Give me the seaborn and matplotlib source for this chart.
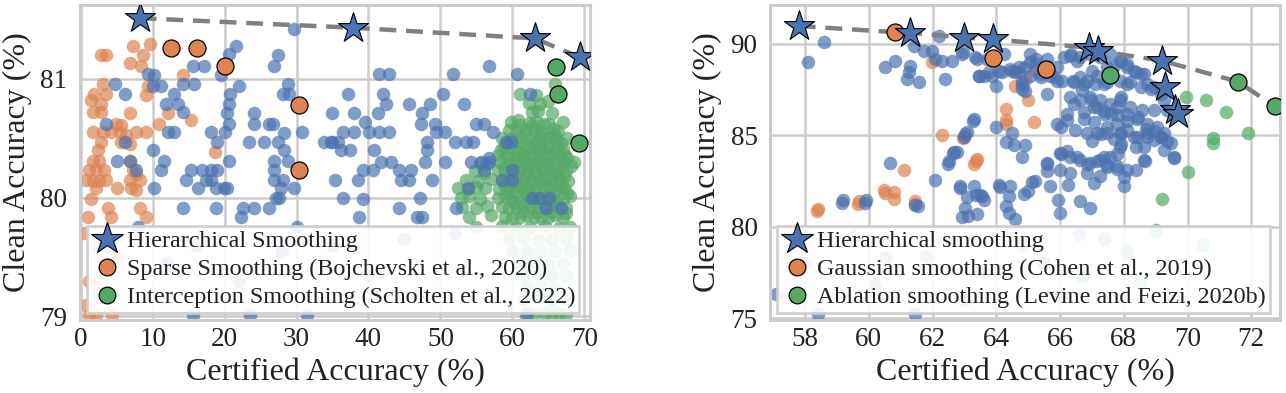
import numpy as np
import pandas as pd
import matplotlib.pyplot as plt
from matplotlib.lines import Line2D
import seaborn as sns

# -----------------------------
# DATA
# -----------------------------
# Left panel: sparse / interception smoothing
left_blue = [
    (29.7, 81.42), (21.6, 81.28), (20.6, 81.21), (27.4, 81.20), (26.9, 81.11),
    (15.6, 81.11), (17.2, 81.11), (9.3, 81.04), (10.2, 81.03), (10.0, 80.94),
    (11.2, 80.94), (19.5, 81.03), (4.7, 80.96), (6.1, 80.87), (14.2, 80.96),
    (15.8, 80.96), (20.7, 80.87), (22.0, 80.94), (28.8, 80.96), (28.1, 80.87),
    (29.0, 80.87), (13.0, 80.87), (11.9, 80.79), (13.5, 80.79), (14.2, 80.72),
    (20.6, 80.79), (20.4, 80.71), (24.1, 80.71), (3.5, 80.62), (12.1, 80.55),
    (13.0, 80.55), (20.6, 80.62), (20.0, 80.55), (24.1, 80.62), (26.2, 80.62),
    (26.7, 80.62), (28.3, 80.54), (18.1, 80.55), (19.0, 80.47), (6.1, 80.47),
    (10.0, 80.40), (11.6, 80.31), (11.2, 80.23), (23.4, 80.47), (25.5, 80.47),
    (27.4, 80.47), (28.3, 80.40), (5.1, 80.31), (6.8, 80.31), (20.6, 80.31),
    (26.9, 80.31), (28.8, 80.31), (33.8, 80.47), (34.8, 80.47), (35.8, 80.47),
    (30.8, 80.55), (7.7, 80.23), (15.3, 80.23), (16.9, 80.23), (18.1, 80.23),
    (19.0, 80.23), (14.6, 80.15), (17.4, 80.15), (18.1, 80.15), (10.2, 80.08),
    (16.3, 80.08), (18.8, 80.08), (19.9, 80.08), (20.4, 80.08), (26.9, 80.23),
    (26.9, 80.15), (28.1, 80.15), (27.9, 80.08), (29.7, 80.08), (27.1, 80.00),
    (27.6, 80.00), (14.2, 79.91), (18.8, 79.91), (22.5, 79.91), (24.1, 79.91),
    (26.2, 79.91), (22.3, 79.84), (15.6, 79.01), (23.5, 79.01), (31.5, 79.01),
    (56.8, 81.11), (41.5, 81.04), (42.9, 81.04), (51.7, 81.04), (60.7, 81.04),
    (37.1, 80.87), (42.0, 80.87), (42.5, 80.79), (45.7, 80.79), (48.5, 80.79),
    (50.3, 80.87), (53.3, 80.79), (62.4, 80.87), (35.0, 80.71), (38.0, 80.71),
    (41.3, 80.71), (47.5, 80.71), (39.5, 80.64), (47.3, 80.62), (49.2, 80.62),
    (55.0, 80.62), (56.1, 80.62), (36.4, 80.55), (38.0, 80.55), (40.1, 80.55),
    (41.5, 80.55), (42.9, 80.55), (49.4, 80.55), (50.6, 80.55), (57.3, 80.55),
    (48.2, 80.47), (52.0, 80.47), (53.6, 80.47), (54.5, 80.47), (59.1, 80.47),
    (59.8, 80.47), (35.0, 80.47), (36.2, 80.40), (37.4, 80.40), (40.8, 80.40),
    (48.2, 80.40), (41.8, 80.30), (43.1, 80.30), (47.8, 80.30), (50.6, 80.30),
    (54.3, 80.30), (55.6, 80.30), (56.8, 80.30), (39.2, 80.23), (40.6, 80.23),
    (44.3, 80.23), (45.9, 80.23), (56.1, 80.23), (35.3, 80.15), (38.5, 80.15),
    (44.5, 80.15), (45.7, 80.15), (48.9, 80.15), (60.0, 80.15), (53.8, 80.08),
    (47.1, 80.00), (39.2, 79.99), (36.4, 80.00), (44.3, 79.91), (46.8, 79.84),
    (47.5, 79.84), (38.7, 79.84), (52.2, 79.91), (62.8, 80.00), (63.7, 80.00),
    (65.1, 80.00), (64.7, 79.91), (66.8, 79.91), (58.6, 80.15), (60.0, 80.23),
    (56.8, 80.33), (61.9, 79.01), (35.0, 79.60), (45.0, 79.65), (28.0, 79.55),
    (16.0, 79.60), (52.0, 79.70), (8.0, 79.75), (12.0, 79.45), (40.0, 79.35),
    (22.0, 79.30), (3.5, 79.60), (47.0, 79.20), (30.0, 79.75),
]

left_orange = [
    (2.8, 81.20), (3.5, 81.20), (7.2, 81.28), (9.7, 81.29), (6.8, 81.13),
    (8.4, 81.11), (8.6, 81.20), (14.2, 81.03), (3.1, 80.96), (1.9, 80.87),
    (3.5, 80.87), (1.4, 80.82), (2.8, 80.79), (9.3, 80.94), (9.1, 80.86),
    (1.7, 80.72), (2.8, 80.72), (6.8, 80.71), (12.1, 80.71), (15.3, 80.65),
    (10.9, 80.62), (1.7, 80.55), (3.1, 80.55), (4.2, 80.55), (5.4, 80.55),
    (6.3, 80.53), (7.7, 80.55), (9.1, 80.55), (4.9, 80.62), (5.6, 80.61),
    (2.8, 80.47), (2.4, 80.40), (1.7, 80.31), (2.6, 80.31), (1.2, 80.23),
    (2.1, 80.23), (3.3, 80.23), (5.6, 80.47), (6.8, 80.45), (18.6, 80.38),
    (6.8, 80.31), (7.2, 80.23), (7.7, 80.20), (0.7, 80.15), (1.7, 80.14),
    (2.6, 80.14), (3.5, 80.15), (2.1, 80.08), (1.4, 79.99), (6.8, 80.15),
    (8.2, 80.15), (7.0, 80.08), (5.1, 80.08), (7.7, 80.06), (3.8, 79.91),
    (8.2, 79.91), (4.2, 79.84), (9.1, 79.84), (1.0, 79.84), (0.5, 79.70),
    (2.0, 79.60), (3.5, 79.45), (1.2, 79.30), (5.0, 79.50), (2.5, 79.20),
    (0.8, 79.10), (1.2, 79.01), (2.1, 79.01), (4.3, 79.01),
]

left_green = [
    (66.0, 80.96), (61.0, 80.87), (63.3, 80.86), (62.3, 80.80), (63.8, 80.79),
    (65.0, 80.81), (62.8, 80.72), (63.6, 80.73), (65.5, 80.71), (59.8, 80.64),
    (60.8, 80.65), (62.3, 80.63), (63.4, 80.64), (65.1, 80.62), (67.0, 80.64),
    (59.5, 80.57), (60.6, 80.56), (62.0, 80.58), (63.1, 80.57), (64.0, 80.55),
    (65.6, 80.58), (66.4, 80.56), (58.5, 80.50), (59.8, 80.49), (61.1, 80.51),
    (62.5, 80.50), (63.4, 80.48), (64.6, 80.50), (65.2, 80.51), (66.1, 80.49),
    (67.6, 80.50), (58.8, 80.43), (60.0, 80.42), (61.3, 80.44), (62.2, 80.43),
    (63.1, 80.41), (64.0, 80.44), (65.0, 80.42), (66.3, 80.43), (67.0, 80.41),
    (58.0, 80.36), (59.2, 80.37), (60.5, 80.35), (61.5, 80.36), (62.6, 80.37),
    (63.5, 80.35), (64.4, 80.36), (65.5, 80.37), (66.6, 80.35), (67.3, 80.36),
    (68.6, 80.30), (55.5, 80.29), (56.5, 80.28), (58.3, 80.30), (59.5, 80.29),
    (60.3, 80.28), (61.2, 80.30), (62.0, 80.29), (63.0, 80.28), (64.1, 80.30),
    (65.0, 80.29), (66.0, 80.28), (67.0, 80.30), (68.2, 80.27), (54.8, 80.22),
    (56.0, 80.21), (58.0, 80.23), (59.0, 80.22), (60.1, 80.21), (61.0, 80.23),
    (62.2, 80.22), (63.2, 80.21), (64.2, 80.23), (65.2, 80.22), (66.2, 80.21),
    (67.5, 80.22), (53.5, 80.15), (55.2, 80.14), (57.0, 80.16), (58.5, 80.15),
    (59.5, 80.14), (60.5, 80.15), (61.5, 80.16), (62.5, 80.15), (63.5, 80.14),
    (64.5, 80.15), (65.5, 80.16), (66.5, 80.15), (67.8, 80.14), (52.5, 80.08),
    (53.8, 80.07), (55.0, 80.09), (56.2, 80.08), (58.2, 80.07), (59.2, 80.08),
    (60.2, 80.09), (61.2, 80.08), (62.2, 80.07), (63.2, 80.08), (64.2, 80.09),
    (65.2, 80.08), (66.2, 80.07), (67.2, 80.08), (52.8, 80.00), (54.0, 80.01),
    (55.5, 79.99), (58.0, 80.00), (59.0, 80.01), (60.0, 79.99), (61.0, 80.00),
    (62.0, 80.01), (63.0, 79.99), (64.0, 80.00), (65.0, 80.01), (66.0, 79.99),
    (67.0, 80.00), (68.0, 80.01), (53.0, 79.92), (55.0, 79.91), (56.5, 79.93),
    (58.5, 79.92), (59.5, 79.91), (60.5, 79.92), (61.5, 79.93), (62.5, 79.92),
    (63.5, 79.91), (64.5, 79.92), (65.5, 79.93), (66.5, 79.92), (67.5, 79.91),
    (54.0, 79.84), (57.0, 79.85), (59.0, 79.84), (60.0, 79.83), (61.0, 79.84),
    (62.0, 79.85), (63.0, 79.84), (64.0, 79.83), (65.0, 79.84), (66.0, 79.85),
    (67.0, 79.84), (55.0, 79.75), (58.5, 79.76), (60.5, 79.74), (62.5, 79.75),
    (64.5, 79.76), (66.5, 79.74), (68.0, 79.75), (59.5, 79.65), (61.5, 79.66),
    (63.5, 79.64), (65.5, 79.65), (67.5, 79.66), (60.0, 79.55), (62.0, 79.56),
    (64.0, 79.54), (66.0, 79.55), (68.0, 79.56), (61.0, 79.45), (63.0, 79.46),
    (65.0, 79.44), (67.0, 79.45), (61.5, 79.35), (63.5, 79.36), (65.5, 79.34),
    (67.5, 79.35), (62.0, 79.25), (64.0, 79.26), (66.0, 79.24), (61.5, 79.15),
    (63.5, 79.16), (65.5, 79.14), (67.5, 79.15), (62.0, 79.03), (63.0, 79.02),
    (64.5, 79.03), (65.5, 79.02), (66.5, 79.03), (67.5, 79.02),
    # denser core between the rows above
    (60.9, 80.61), (62.7, 80.61), (64.4, 80.62), (61.7, 80.54), (63.9, 80.53),
    (65.9, 80.53), (59.3, 80.46), (60.8, 80.47), (62.8, 80.46), (64.9, 80.46),
    (66.8, 80.46), (58.4, 80.40), (60.9, 80.39), (63.8, 80.39), (65.9, 80.40),
    (59.7, 80.33), (61.7, 80.33), (63.6, 80.32), (65.6, 80.33), (67.6, 80.33),
    (58.8, 80.26), (60.7, 80.25), (62.6, 80.26), (64.6, 80.25), (66.6, 80.26),
    (59.9, 80.18), (61.9, 80.19), (63.9, 80.18), (65.9, 80.19), (67.2, 80.18),
    (58.9, 80.11), (60.8, 80.11), (62.8, 80.12), (64.8, 80.11), (66.8, 80.11),
    (59.6, 80.04), (61.6, 80.04), (63.6, 80.03), (65.6, 80.04), (67.6, 80.04),
    (60.2, 79.96), (62.2, 79.96), (64.2, 79.95), (66.2, 79.96), (61.4, 79.88),
    (63.4, 79.88), (65.4, 79.88), (67.4, 79.87),
]

left_stars = [(8.2, 81.51), (37.8, 81.43), (63.1, 81.34), (69.4, 81.18)]
left_orange_hl = [(12.6, 81.26), (16.1, 81.26), (20.0, 81.11), (30.3, 80.78), (30.3, 80.23)]
left_green_hl = [(66.1, 81.10), (66.4, 80.87), (69.3, 80.46)]

# Right panel: gaussian / ablation smoothing
right_blue = [
    (58.58, 90.10), (58.08, 88.97), (60.52, 88.70), (60.81, 89.06), (61.30, 88.79),
    (61.25, 88.43), (61.20, 88.07), (61.58, 87.92), (62.19, 90.41), (61.41, 89.87),
    (61.72, 89.60), (61.98, 89.60), (62.09, 89.15), (62.30, 89.06), (62.61, 89.06),
    (62.93, 89.42), (63.40, 89.15), (63.71, 89.15), (64.24, 89.42), (62.40, 88.07),
    (63.45, 88.25), (63.77, 88.43), (64.08, 88.52), (64.50, 88.52), (64.70, 88.43),
    (64.00, 87.70), (64.80, 87.50), (64.80, 87.90), (63.30, 85.90), (63.08, 85.18),
    (62.98, 84.90), (64.00, 85.45), (64.30, 84.60), (64.50, 85.10), (64.55, 84.45),
    (62.66, 84.10), (62.77, 84.10), (62.50, 83.56), (60.67, 83.50), (62.09, 82.56),
    (62.87, 82.20), (63.35, 81.75), (63.56, 81.66), (63.61, 81.48), (63.03, 81.03),
    (64.08, 82.29), (64.40, 81.66), (64.29, 81.12), (59.20, 81.48), (59.90, 81.48),
    (61.46, 81.20), (62.93, 80.50), (63.10, 80.60), (63.40, 80.67), (64.40, 80.76),
    (64.60, 80.40), (57.10, 76.30), (58.40, 75.25), (61.46, 75.25), (62.47, 83.44),
    (62.65, 84.04), (63.03, 85.08), (63.28, 85.79), (62.87, 82.13), (59.16, 81.30),
    (59.89, 81.30), (61.55, 81.10), (59.50, 79.50), (60.50, 78.30), (62.50, 79.20),
    (63.50, 77.50), (64.80, 79.00), (65.50, 78.00), (66.60, 79.60), (58.00, 78.00),
    (60.20, 76.80), (63.00, 76.00),
    (65.05, 89.42), (65.26, 89.15), (65.58, 89.15), (64.90, 88.70), (65.05, 88.25),
    (65.37, 88.34), (65.68, 88.25), (65.89, 88.70), (66.32, 89.33), (66.63, 89.24),
    (66.95, 89.42), (67.26, 89.24), (67.58, 89.42), (67.89, 89.06), (68.11, 88.70),
    (68.37, 88.43), (68.63, 88.34), (66.05, 87.98), (66.42, 87.98), (66.74, 87.80),
    (67.11, 87.80), (67.47, 87.89), (67.89, 87.98), (68.21, 87.89), (68.53, 87.62),
    (68.84, 87.53), (69.16, 87.44), (66.32, 87.08), (66.68, 87.44), (66.95, 87.08),
    (67.26, 86.90), (67.58, 86.71), (67.89, 86.90), (68.21, 86.53), (68.58, 86.35),
    (68.95, 86.35), (69.37, 86.35), (66.74, 86.26), (67.05, 86.53), (67.37, 86.17),
    (67.79, 86.08), (68.11, 86.17), (68.42, 85.90), (68.74, 85.63), (69.05, 85.45),
    (69.26, 85.09), (69.47, 84.55), (65.89, 85.63), (66.21, 85.81), (66.47, 85.27),
    (66.84, 85.09), (67.16, 85.09), (67.47, 85.09), (67.89, 85.09), (68.11, 85.27),
    (68.42, 84.91), (68.74, 85.09), (68.95, 84.73), (69.16, 84.91), (64.89, 84.46),
    (64.79, 83.83), (65.58, 83.47), (66.00, 84.01), (66.32, 83.83), (66.63, 83.65),
    (66.95, 83.47), (67.26, 83.65), (67.58, 83.83), (67.79, 83.29), (68.11, 83.10),
    (68.37, 83.10), (68.63, 83.65), (66.00, 83.10), (66.32, 82.92), (66.84, 82.92),
    (67.26, 82.74), (67.47, 83.38), (67.89, 84.37), (68.37, 84.37), (65.21, 82.47),
    (65.68, 82.20), (66.26, 82.29), (67.05, 82.38), (68.00, 82.20), (65.00, 81.93),
    (65.95, 81.48), (66.63, 81.39), (66.95, 81.03), (66.00, 80.76), (69.26, 84.19),
    (69.58, 83.74), (68.68, 83.56),
    (62.97, 89.53), (63.34, 89.25), (63.45, 88.25), (63.60, 88.25), (63.87, 88.25),
    (64.18, 88.43), (64.44, 88.62), (64.60, 88.43), (64.70, 88.71), (64.81, 87.71),
    (64.91, 87.43), (65.07, 88.98), (65.23, 88.89), (65.39, 88.16), (65.60, 87.25),
    (65.81, 88.16), (65.91, 87.98), (66.12, 89.25), (66.33, 89.44), (66.54, 89.07),
    (66.43, 87.89), (66.64, 88.16), (66.85, 87.98), (67.01, 88.52), (67.17, 88.25),
    (67.38, 87.80), (67.48, 88.71), (67.69, 88.80), (67.90, 89.07), (68.11, 88.89),
    (68.32, 88.52), (68.53, 88.34), (68.74, 87.80), (68.95, 87.61), (69.16, 87.25),
    (69.26, 86.89), (68.11, 87.80), (67.90, 87.07), (67.80, 86.52), (67.59, 86.16),
    (67.38, 86.34), (67.17, 86.52), (66.96, 86.89), (66.64, 86.89), (66.43, 86.70),
    (66.22, 86.16), (66.02, 85.43), (66.75, 85.88), (67.06, 85.70), (67.48, 85.43),
    (67.80, 85.61), (68.11, 85.79), (68.43, 85.97), (68.69, 85.34), (68.95, 85.25),
    (69.16, 84.88), (69.37, 84.70), (69.58, 83.79), (68.32, 84.88), (68.64, 84.34),
    (68.74, 84.88), (67.90, 85.06), (67.69, 84.79), (67.27, 85.06), (67.01, 84.70),
    (67.38, 83.79), (67.80, 83.97), (67.90, 84.52), (66.02, 83.97), (66.22, 84.15),
    (66.54, 83.79), (66.85, 83.42), (67.17, 83.61), (67.48, 83.24), (67.80, 83.15),
    (68.00, 82.70), (65.60, 83.42), (65.60, 83.06), (65.12, 82.42), (64.13, 82.15),
    (64.44, 82.24), (64.86, 81.79), (63.29, 82.24), (63.50, 81.70), (63.08, 81.60),
]

right_orange = [
    (61.98, 88.97), (64.29, 86.45), (64.29, 85.81), (64.31, 85.63), (63.00, 84.90),
    (63.35, 83.56), (63.30, 83.40), (63.40, 83.70), (61.10, 83.10), (60.46, 82.00),
    (60.78, 81.90), (60.80, 81.50), (59.68, 81.40), (61.46, 81.40), (58.40, 80.94),
    (65.17, 85.70), (64.98, 86.90), (64.90, 88.00), (62.30, 85.00), (65.20, 88.50),
    (64.60, 87.70), (62.97, 84.86), (60.50, 81.86), (59.67, 81.26), (61.46, 81.26),
    (58.38, 80.87), (60.00, 79.20), (61.80, 78.40),
]

right_green = [
    (69.95, 87.08), (70.58, 86.90), (71.21, 86.27), (71.89, 85.10), (70.79, 84.82),
    (70.79, 84.55), (70.00, 83.00), (69.20, 81.50), (67.37, 79.34), (68.10, 78.60),
    (66.70, 77.30), (69.00, 79.80), (70.50, 79.00), (68.50, 77.00), (66.00, 76.20),
]

right_stars = [(57.8, 90.96), (61.3, 90.60), (63.0, 90.32), (63.9, 90.23), (66.9, 89.78),
               (67.2, 89.60), (69.2, 89.06), (69.3, 87.60), (69.6, 86.35), (69.7, 86.17)]
right_orange_hl = [(60.83, 90.62), (63.9, 89.20), (65.56, 88.60)]
right_green_hl = [(67.56, 88.30), (71.58, 87.92), (72.74, 86.57)]

left_labels = ["Hierarchical Smoothing",
               "Sparse Smoothing (Bojchevski et al., 2020)",
               "Interception Smoothing (Scholten et al., 2022)"]
right_labels = ["Hierarchical smoothing",
                "Gaussian smoothing (Cohen et al., 2019)",
                "Ablation smoothing (Levine and Feizi, 2020b)"]

left_xticks = [0, 10, 20, 30, 40, 50, 60, 70]
left_yticks = [79, 80, 81]
right_xticks = [58, 60, 62, 64, 66, 68, 70, 72]
right_yticks = [75, 80, 85, 90]

# -----------------------------
# STYLE
# -----------------------------
sns.set_theme(style="whitegrid")
GRID = "#cccccc"
INK = "#222222"
plt.rcParams["font.family"] = ["Liberation Serif", "DejaVu Serif"]
plt.rcParams["axes.edgecolor"] = GRID
plt.rcParams["axes.linewidth"] = 2.2
plt.rcParams["grid.color"] = GRID
plt.rcParams["grid.linewidth"] = 1.8

BLUE, ORANGE, GREEN = sns.color_palette("deep")[:3]


def to_df(points):
    return pd.DataFrame(points, columns=["x", "y"])


def pareto(points):
    # upper-right front of all highlighted results
    front = []
    best = -np.inf
    for x, y in sorted(points, key=lambda p: -p[0]):
        if y > best:
            front.append((x, y))
            best = y
    return to_df(sorted(front))


def draw_panel(ax, blue, orange, green, stars, orange_hl, green_hl, labels,
               xlim, ylim, xticks, yticks):
    for pts, col in [(orange, ORANGE), (green, GREEN), (blue, BLUE)]:
        sns.scatterplot(data=to_df(pts), x="x", y="y", color=col, s=95,
                        alpha=0.7, linewidth=0, ax=ax, zorder=2)
    front = pareto(stars + orange_hl + green_hl)
    ax.plot(front["x"], front["y"], color="gray", lw=3.2,
            linestyle=(0, (3.8, 2.2)), zorder=3)
    for pts, col in [(orange_hl, ORANGE), (green_hl, GREEN)]:
        sns.scatterplot(data=to_df(pts), x="x", y="y", color=col, s=150,
                        edgecolor="black", linewidth=0.9, ax=ax, zorder=4)
    sns.scatterplot(data=to_df(stars), x="x", y="y", color=BLUE, marker="*",
                    s=520, edgecolor="black", linewidth=0.8, ax=ax, zorder=5)

    ax.set_xlim(*xlim)
    ax.set_ylim(*ylim)
    ax.set_xticks(xticks)
    ax.set_yticks(yticks)
    ax.tick_params(axis="both", labelsize=19.5, length=0, colors=INK)
    ax.tick_params(axis="y", pad=9)
    ax.tick_params(axis="x", pad=5)
    ax.set_xlabel("Certified Accuracy (%)", fontsize=23, color=INK, labelpad=4)
    ax.set_ylabel("Clean Accuracy (%)", fontsize=23, color=INK, labelpad=6)

    handles = [
        Line2D([], [], marker="*", ls="", ms=24, mfc=BLUE, mec="black", mew=0.8),
        Line2D([], [], marker="o", ls="", ms=12, mfc=ORANGE, mec="black", mew=0.9),
        Line2D([], [], marker="o", ls="", ms=12, mfc=GREEN, mec="black", mew=0.9),
    ]
    leg = ax.legend(handles, labels, loc="lower left", fontsize=17.4,
                    frameon=True, fancybox=False, framealpha=0.9,
                    edgecolor=GRID, borderaxespad=0.3, borderpad=0.18,
                    labelspacing=0.26, handletextpad=0.15, handlelength=1.3)
    leg.get_frame().set_linewidth(2.0)
    for t in leg.get_texts():
        t.set_color(INK)


fig = plt.figure(figsize=(12.86, 3.93), dpi=100)
ax1 = fig.add_axes([0.0622, 0.1858, 0.3966, 0.8012])
ax2 = fig.add_axes([0.5988, 0.1858, 0.3965, 0.8012])

draw_panel(ax1, left_blue, left_orange, left_green, left_stars,
           left_orange_hl, left_green_hl, left_labels,
           (-0.1, 70.8), (78.97, 81.62), left_xticks, left_yticks)
draw_panel(ax2, right_blue, right_orange, right_green, right_stars,
           right_orange_hl, right_green_hl, right_labels,
           (56.9, 72.9), (74.9, 92.1), right_xticks, right_yticks)

fig.savefig("out.png", dpi=100)
